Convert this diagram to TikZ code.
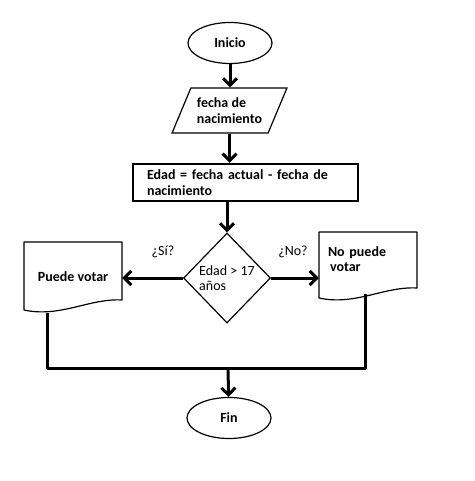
\documentclass[tikz,border=0pt]{standalone}
\usepackage{fontspec}
\setmainfont{Carlito}
\usepackage{tikz}
\usetikzlibrary{arrows.meta}
\usetikzlibrary{shapes.geometric}

\newcommand{\flowsize}{\fontsize{14}{15.5}\selectfont}

\tikzset{
    terminal/.style={draw, ellipse, line width=1.2pt, minimum width=84pt, minimum height=41pt, inner sep=0pt, font=\flowsize\bfseries},
    inputbox/.style={draw, trapezium, trapezium left angle=58, trapezium right angle=122, trapezium stretches=true, line width=1.2pt, minimum width=115pt, minimum height=45pt, inner sep=0pt, align=left, font=\flowsize\bfseries},
    process/.style={draw, rectangle, line width=2.5pt, minimum width=225pt, minimum height=37pt, text width=197pt, inner xsep=14pt, inner ysep=0pt, align=left, font=\flowsize\bfseries},
    decision/.style={draw, diamond, aspect=1, line width=1.2pt, minimum width=87pt, minimum height=90pt, inner sep=0pt, align=left, font=\flowsize},
    docnode/.style={rectangle, inner sep=0pt, font=\flowsize\bfseries},
    docline/.style={line width=1.2pt, line join=round},
    lbl/.style={font=\flowsize},
    link/.style={line width=3pt},
    arrow/.style={line width=3pt, -{Straight Barb[length=7pt,width=14pt]}}
}

\begin{document}
\begin{tikzpicture}[x=1pt,y=-1pt]
        \useasboundingbox (0,0) rectangle (474,481);

        \node[terminal] (inicio) at (230,43) {Inicio};
        \node[inputbox] (fecha) at (229.5,110.5) {fecha de\\nacimiento};
        \node[process] (edad) at (245.5,182.5) {Edad = fecha actual - fecha de\\nacimiento};
        \node[decision] (dec) at (227,278) {Edad > 17\\años};
        \node[docnode, minimum width=98pt, minimum height=70pt] (puede) at (73,277) {Puede votar};
        \node[docnode, text width=80pt, inner xsep=9pt, align=left] (nopuede) at (368,259) {No puede\\\hspace*{2pt}votar};
        \node[terminal] (fin) at (229,418) {Fin};

        \node[lbl] (si) at (163,252) {¿Sí?};
        \node[lbl] (no) at (293,252) {¿No?};

        % document outlines
        \draw[docline] (24,242) -- (122,242) -- (122,300) .. controls (90,298) and (60,318) .. (24,310) -- cycle;
        \draw[docline] (319,232) -- (417,232) -- (417,288) .. controls (385,286) and (355,306) .. (319,298) -- cycle;

        \coordinate (pb) at (47,313);
        \coordinate (nb) at (365,294);
        \coordinate (jn) at (228,368);

        \draw[arrow] (inicio.south) -- (inicio.south |- fecha.north);
        \draw[arrow] (fecha.south) -- (fecha.south |- edad.north);
        \draw[arrow] (edad.south -| dec.north) -- (dec.north);
        \draw[arrow] (dec.west) -- (dec.west -| puede.east);
        \draw[arrow] (dec.east) -- (dec.east -| nopuede.west);

        \draw[link, line join=round] (pb) |- (jn);
        \draw[link, line join=round] (nb) |- (jn);
        \draw[arrow] (jn) -- (fin);
    \end{tikzpicture}
\end{document}
